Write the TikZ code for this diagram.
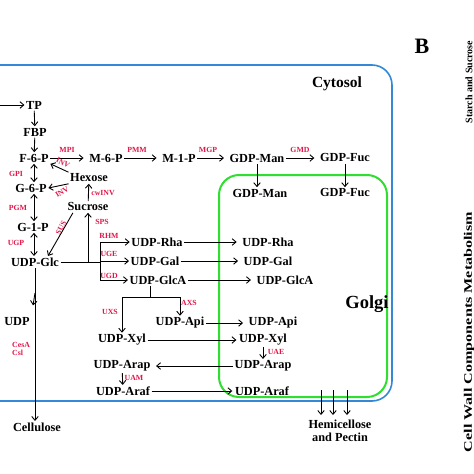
\documentclass[tikz,border=0pt]{standalone}
\usepackage{fontspec}
\setmainfont{Liberation Serif}
\usetikzlibrary{arrows.meta}
\definecolor{cytblue}{RGB}{52,136,214}
\definecolor{golgreen}{RGB}{48,222,48}
\definecolor{enzred}{RGB}{226,22,72}
\newcommand{\mfont}{\fontsize{12.3}{13}\selectfont\bfseries}
\newcommand{\efont}{\fontsize{7.8}{8}\selectfont\bfseries}

\begin{document}
\begin{tikzpicture}[x=1pt, y=-1pt, >={Straight Barb[length=3.8pt,width=6.5pt]},
        met/.style={font=\mfont, inner sep=1.5pt},
        enz/.style={font=\efont, text=enzred, inner sep=0pt},
        flow/.style={->, line width=0.9pt},
        twoway/.style={<->, line width=0.9pt}]
        \useasboundingbox (0,0) rectangle (474,474);
        % compartments
        \draw[cytblue, line width=1.6pt, rounded corners=20pt] (-40,65) rectangle (392,401);
        \draw[golgreen, line width=2pt, rounded corners=20pt] (219,175) rectangle (387,397);
        \node[font=\fontsize{15.5}{16}\selectfont\bfseries] (cyto) at (337,84) {Cytosol};
        \node[font=\fontsize{18.5}{19}\selectfont\bfseries] (golgi) at (367,304) {Golgi};
        \node[font=\fontsize{22}{22}\selectfont\bfseries] (panel) at (422,46) {B};
        \node[font=\fontsize{10}{10}\selectfont\bfseries, rotate=90] (starch) at (469,82) {Starch and Sucrose};
        \node[font=\fontsize{11.5}{12}\selectfont\bfseries, rotate=90] (cellwall) at (469,332)
            {\scalebox{1.4}[1]{Cell Wall Components Metabolism}};

        % hexose phosphates
        \coordinate (in) at (0,105);
        \node[met] (TP) at (34,105) {TP};
        \node[met] (FBP) at (35,132) {FBP};
        \node[met] (F6P) at (34,158) {F-6-P};
        \node[met] (G6P) at (31,188) {G-6-P};
        \node[met] (G1P) at (33,227) {G-1-P};
        \node[met] (UDPGlc) at (35,262) {UDP-Glc};
        \node[met] (Hexose) at (89,178) {Hexose};
        \node[met] (Sucrose) at (88,207) {Sucrose};
        \node[met] (UDP) at (17,322) {UDP};
        \node[met] (Cellulose) at (37,427) {Cellulose};

        % mannose branch
        \node[met] (M6P) at (106,158) {M-6-P};
        \node[met] (M1P) at (179,158) {M-1-P};
        \node[met] (GDPMan) at (257,158) {GDP-Man};
        \node[met] (GDPFuc) at (345,158) {GDP-Fuc};
        \node[met] (GDPManG) at (260,193) {GDP-Man};
        \node[met] (GDPFucG) at (345,193) {GDP-Fuc};

        % nucleotide sugars
        \node[met] (RhaC) at (157,242) {UDP-Rha};
        \node[met] (GalC) at (155,261) {UDP-Gal};
        \node[met] (GlcAC) at (158,280) {UDP-GlcA};
        \node[met] (RhaG) at (268,242) {UDP-Rha};
        \node[met] (GalG) at (268,261) {UDP-Gal};
        \node[met] (GlcAG) at (285,280) {UDP-GlcA};
        \node[met] (ApiC) at (180,323) {UDP-Api};
        \node[met] (ApiG) at (273,323) {UDP-Api};
        \node[met] (XylC) at (122,340) {UDP-Xyl};
        \node[met] (XylG) at (263,340) {UDP-Xyl};
        \node[met] (ArapC) at (122,366) {UDP-Arap};
        \node[met] (ArapG) at (263,366) {UDP-Arap};
        \node[met] (ArafC) at (123,391) {UDP-Araf};
        \node[met] (ArafG) at (262,391) {UDP-Araf};
        \node[met, align=center] (Hemi) at (340,431) {Hemicellose\\and Pectin};

        % arrows
        \draw[flow] (in) -- (TP);
        \draw[flow] (TP) -- (FBP);
        \draw[flow] (FBP) -- (F6P);
        \draw[twoway] (F6P) -- (G6P.north -| F6P);
        \draw[twoway] (G6P.south -| F6P) -- (G1P.north -| F6P);
        \draw[twoway] (G1P.south -| F6P) -- (UDPGlc.north -| F6P);
        \draw[flow, shorten >=4pt] (F6P) -- (M6P);
        \draw[flow, shorten >=4pt] (M6P) -- (M1P);
        \draw[flow, shorten >=4pt] (M1P) -- (GDPMan);
        \draw[flow, shorten >=4pt] (GDPMan) -- (GDPFuc);
        \draw[flow] (GDPMan) -- (GDPMan |- GDPManG.north);
        \draw[flow] (GDPFuc) -- (GDPFucG);
        \draw[flow] (Hexose.north west) -- (F6P.south east);
        \draw[flow] (Hexose.south west) -- (G6P.east);
        \draw[flow] (Sucrose) -- (Hexose);
        \draw[flow] ([xshift=7pt]Sucrose.south west) -- ([xshift=13pt]UDPGlc.north);

        % sugar nucleotide interconversion
        \coordinate (br) at (100,262);
        \draw[line width=0.9pt] (UDPGlc) -- (br);
        \draw[flow] (Sucrose |- UDPGlc) -- (Sucrose);
        \draw[line width=0.9pt] (br |- RhaC) -- (br |- GlcAC);
        \draw[flow] (br |- RhaC) -- (RhaC);
        \draw[flow] (br |- GalC) -- (GalC);
        \draw[flow] (br |- GlcAC) -- (GlcAC);
        \draw[flow, shorten >=4pt] (RhaC) -- (RhaG);
        \draw[flow, shorten >=4pt] (GalC) -- (GalG);
        \draw[flow, shorten >=4pt] (GlcAC) -- (GlcAG);
        \coordinate (split) at (150,297);
        \draw[line width=0.9pt] (GlcAC.south -| split) -- (split);
        \draw[line width=0.9pt] (split -| XylC) -- (split -| ApiC);
        \draw[flow] (split -| XylC) -- (XylC);
        \draw[flow] (split -| ApiC) -- (ApiC);
        \draw[flow, shorten >=4pt] (ApiC) -- (ApiG);
        \draw[flow, shorten >=1pt] (XylC) -- (XylG);
        \draw[flow] (XylG) -- (ArapG);
        \draw[flow, shorten >=4pt] (ArapG) -- (ArapC);
        \draw[flow] (ArapC) -- (ArafC);
        \draw[flow, shorten >=1pt] (ArafC) -- (ArafG);

        % cellulose
        \coordinate (ub) at (35,293);
        \draw[flow] (UDPGlc) -- (UDPGlc |- Cellulose.north);
        \draw[flow, shorten >=11pt] (ub) -- (UDP.north east);
        \foreach \x in {321, 333, 347} {
            \draw[flow] (\x,390) -- (\x,415);
        }

        % labels
        \node[enz] (MPI) at (67,150) {MPI};
        \node[enz] (PMM) at (137,150) {PMM};
        \node[enz] (MGP) at (208,150) {MGP};
        \node[enz] (GMD) at (300,150) {GMD};
        \node[enz] (GPI) at (16,174) {GPI};
        \node[enz] (PGM) at (18,208) {PGM};
        \node[enz] (UGP) at (16,243) {UGP};
        \node[enz, rotate=-28] (INV1) at (63,163) {INV};
        \node[enz, rotate=32] (INV2) at (62,192) {INV};
        \node[enz] (cwINV) at (103,193) {cwINV};
        \node[enz, rotate=62] (SUS) at (61,228) {SUS};
        \node[enz] (SPS) at (102,222) {SPS};
        \node[enz] (RHM) at (109,236) {RHM};
        \node[enz] (UGE) at (109,254) {UGE};
        \node[enz] (UGD) at (109,276) {UGD};
        \node[enz] (UXS) at (110,312) {UXS};
        \node[enz] (AXS) at (189,303) {AXS};
        \node[enz] (UAE) at (276,352) {UAE};
        \node[enz] (UAM) at (134,378) {UAM};
        \node[enz, align=left, anchor=north west] (CesA) at (12,342) {CesA\\Csl};
    \end{tikzpicture}
\end{document}
